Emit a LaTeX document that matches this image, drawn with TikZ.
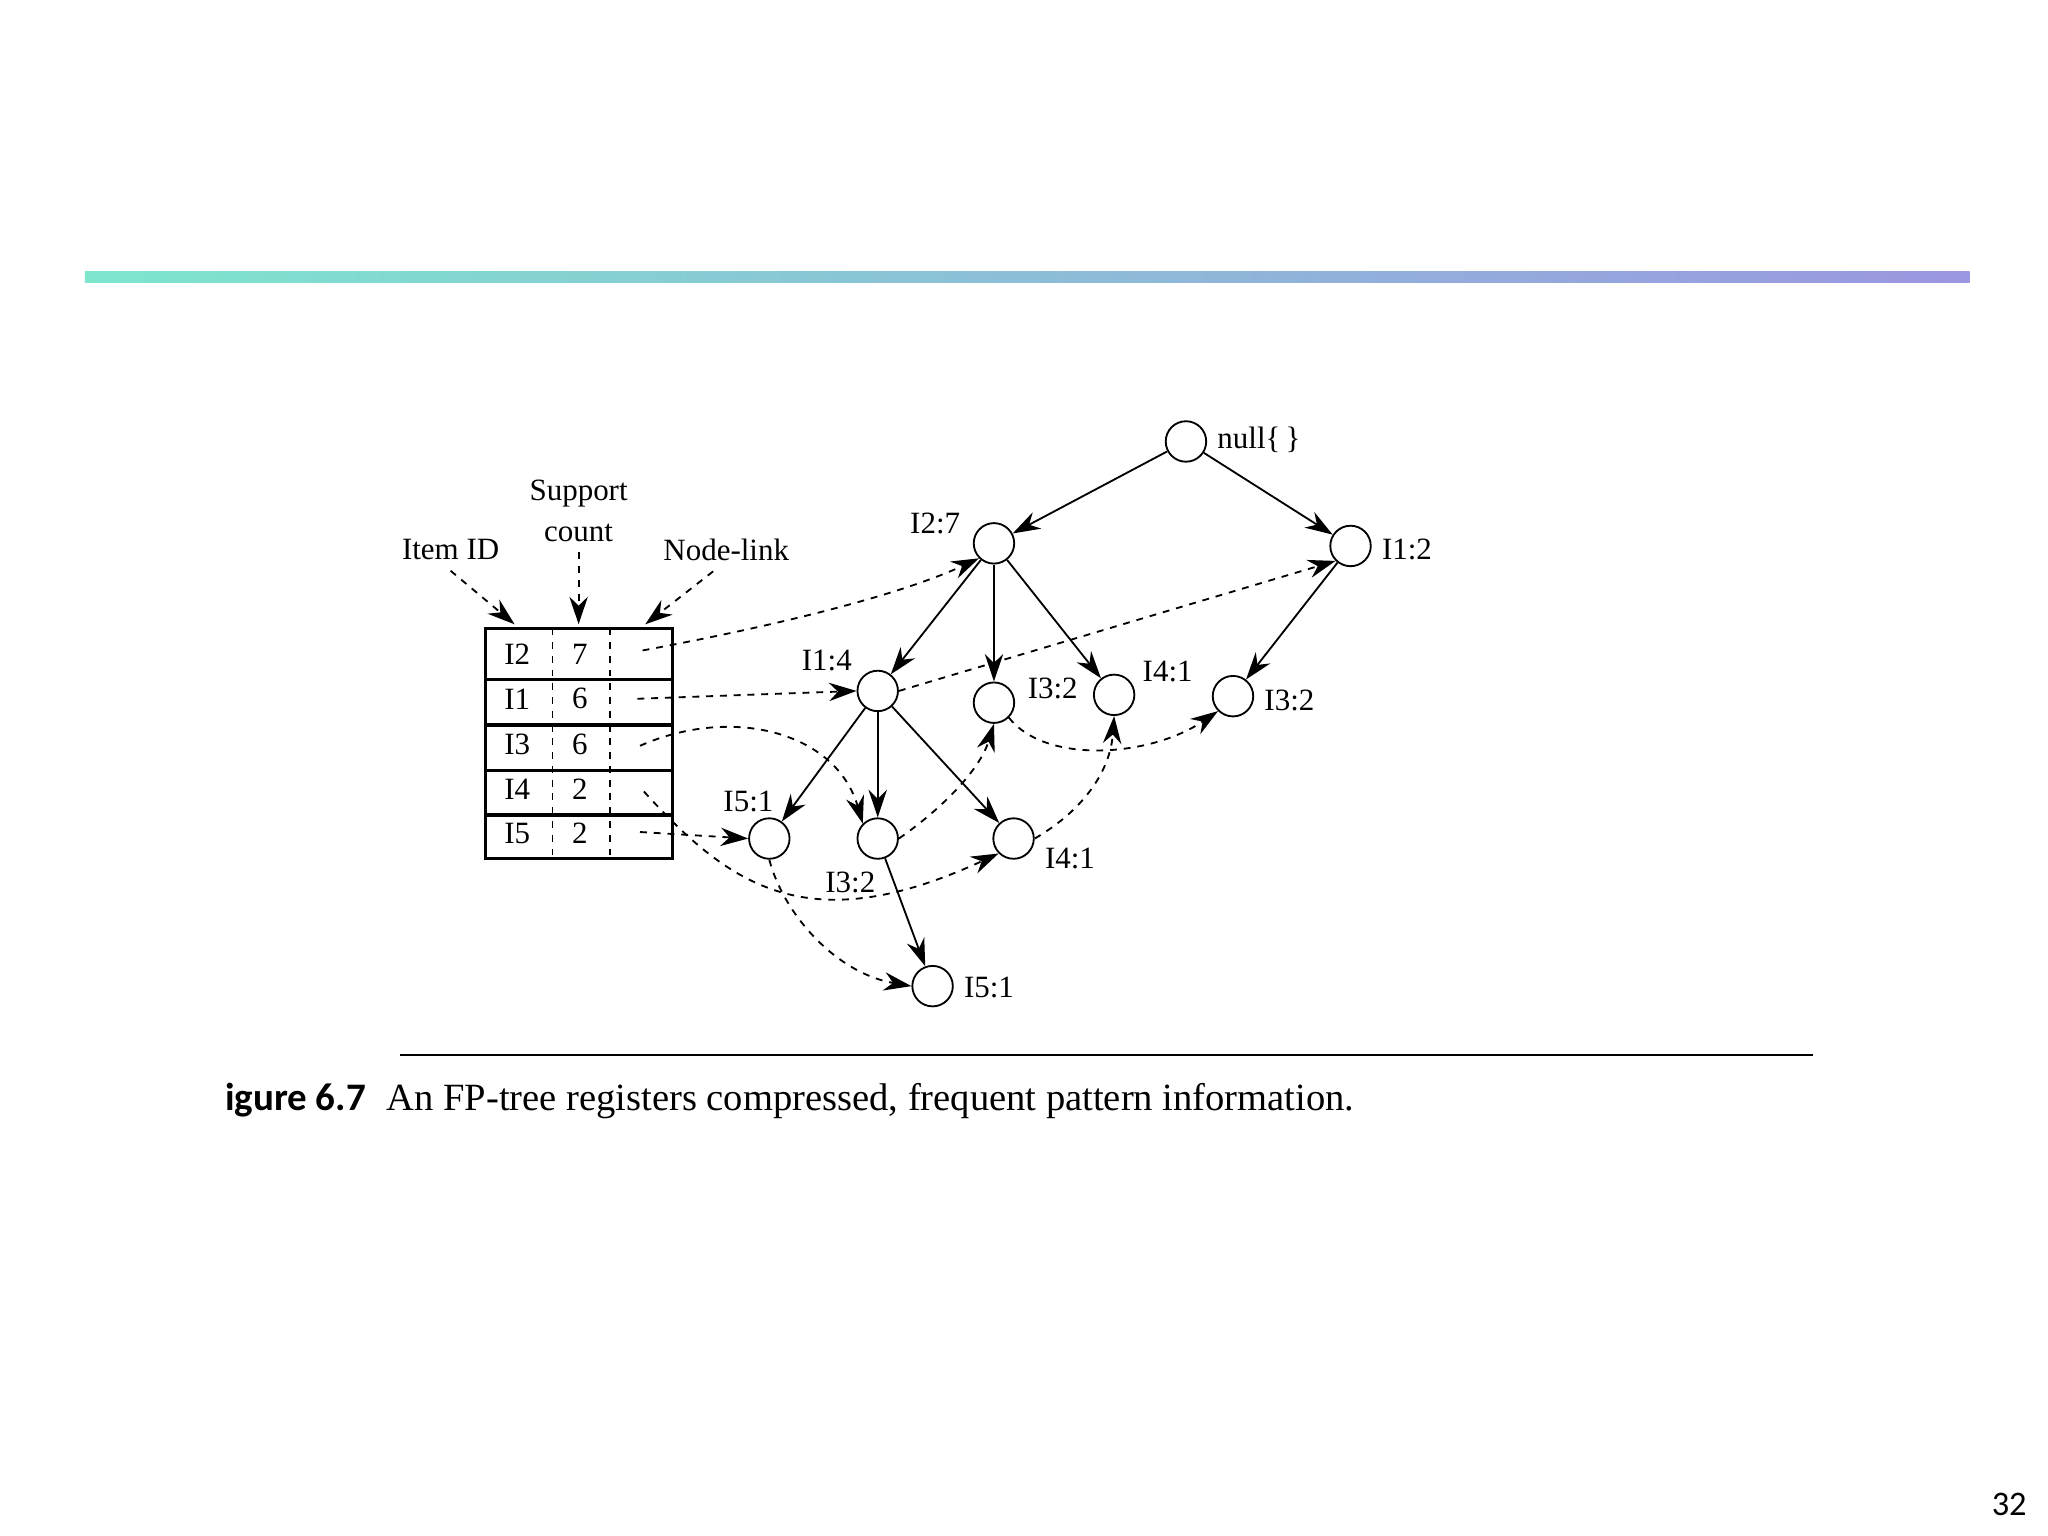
\documentclass[tikz,border=0pt]{standalone}
\usepackage{fontspec}
\setmainfont{Liberation Serif}
\newfontfamily\capsans{Carlito}
\usetikzlibrary{arrows.meta,shadings}
\begin{document}
\begin{tikzpicture}[x=0.02cm,y=-0.02cm,
  tn/.style={circle,draw,thick,minimum size=0.62cm,inner sep=0pt},
  lbl/.style={font=\fontsize{13.5}{14}\selectfont,inner sep=1pt},
  tarr/.style={thick,-{Stealth[length=12pt,width=8pt]}},
  larr/.style={thick,dashed,-{Stealth[length=12pt,width=8pt]}}]
\useasboundingbox (0,0) rectangle (1568,1176);
\shade[left color={rgb,255:red,125;green,230;blue,205},right color={rgb,255:red,155;green,150;blue,225}] (65,208) rectangle (1508,216);
% tree nodes
\node[tn] (null) at (908,338) {};
\node[tn] (i27) at (761,416) {};
\node[tn] (i12) at (1034,418) {};
\node[tn] (i14) at (672,529) {};
\node[tn] (i32a) at (761,538) {};
\node[tn] (i41a) at (853,532) {};
\node[tn] (i32b) at (944,533) {};
\node[tn] (i51a) at (589,642) {};
\node[tn] (i32c) at (672,642) {};
\node[tn] (i41b) at (776,642) {};
\node[tn] (i51b) at (714,755) {};
% labels
\node[lbl,anchor=west] at (930,337) {null\{\,\}};
\node[lbl] at (716,401) {I2:7};
\node[lbl,anchor=west] at (1056,421) {I1:2};
\node[lbl] at (633,506) {I1:4};
\node[lbl] at (806,527) {I3:2};
\node[lbl] at (894,514) {I4:1};
\node[lbl,anchor=west] at (966,536) {I3:2};
\node[lbl] at (573,614) {I5:1};
\node[lbl] at (651,676) {I3:2};
\node[lbl,anchor=west] at (798,657) {I4:1};
\node[lbl,anchor=west] at (736,756) {I5:1};
% tree edges
\draw[tarr] (null) -- (i27);
\draw[tarr] (null) -- (i12);
\draw[tarr] (i27) -- (i14);
\draw[tarr] (i27) -- (i32a);
\draw[tarr] (i27) -- (i41a);
\draw[tarr] (i12) -- (i32b);
\draw[tarr] (i14) -- (i51a);
\draw[tarr] (i14) -- (i32c);
\draw[tarr] (i14) -- (i41b);
\draw[tarr] (i32c) -- (i51b);
% table
\draw[semithick,line width=1.4pt] (372,481) rectangle (515,657);
\foreach \y in {520,555,590,624} \draw[line width=1.4pt] (372,\y) -- (515,\y);
\draw[dashed] (423,481) -- (423,657);
\draw[thick,dashed] (467,481) -- (467,657);
\foreach \n/\c/\y in {I2/7/501,I1/6/535,I3/6/570,I4/2/604,I5/2/638}{
  \node[lbl] at (396,\y) {\n};
  \node[lbl] at (444,\y) {\c};
}
\coordinate (r1) at (492,498);
\coordinate (r2) at (488,535);
\coordinate (r3) at (490,571);
\coordinate (r4) at (493,606);
\coordinate (r5) at (490,637);
% header
\node[lbl] (hid) at (345,421) {Item ID};
\node[lbl] (hsup) at (443,378) {Support};
\node[lbl] (hcnt) at (443,408) {count};
\node[lbl] (hnl) at (556,421) {Node-link};
\draw[larr] (hid.south) ++(0,6) -- (394,478);
\draw[larr] (hcnt.south) ++(0,6) -- (443,478);
\draw[larr] (hnl.south) ++(-10,6) -- (494,478);
% node links
\draw[larr] (r1) .. controls (600,478) and (690,455) .. (i27.south west);
\draw[larr] (r2) -- (i14.west);
\draw[larr] (i14.east) -- (i12.south west);
\draw[larr] (r3) .. controls (560,540) and (640,560) .. (i32c.north west);
\draw[larr] (i32c.east) .. controls (720,620) and (750,590) .. (i32a.south);
\draw[larr] (i32a.south east) .. controls (800,585) and (880,580) .. (i32b.south west);
\draw[larr] (r4) .. controls (560,680) and (620,720) .. (i41b.south west);
\draw[larr] (i41b.east) .. controls (830,620) and (850,590) .. (i41a.south);
\draw[larr] (r5) -- (i51a.west);
\draw[larr] (i51a.south) .. controls (600,700) and (640,745) .. (i51b.west);
% caption
\draw[thick] (306,808) -- (1388,808);
\node[anchor=west,inner sep=0pt] at (172,843) {{\capsans\bfseries\fontsize{17}{18}\selectfont igure 6.7}\hspace{0.9em}{\fontsize{16.8}{18}\selectfont An FP-tree registers compressed, frequent pattern information.}};
\node[anchor=east,inner sep=0pt] at (1552,1152) {\capsans\fontsize{15}{17}\selectfont 32};
\end{tikzpicture}
\end{document}
